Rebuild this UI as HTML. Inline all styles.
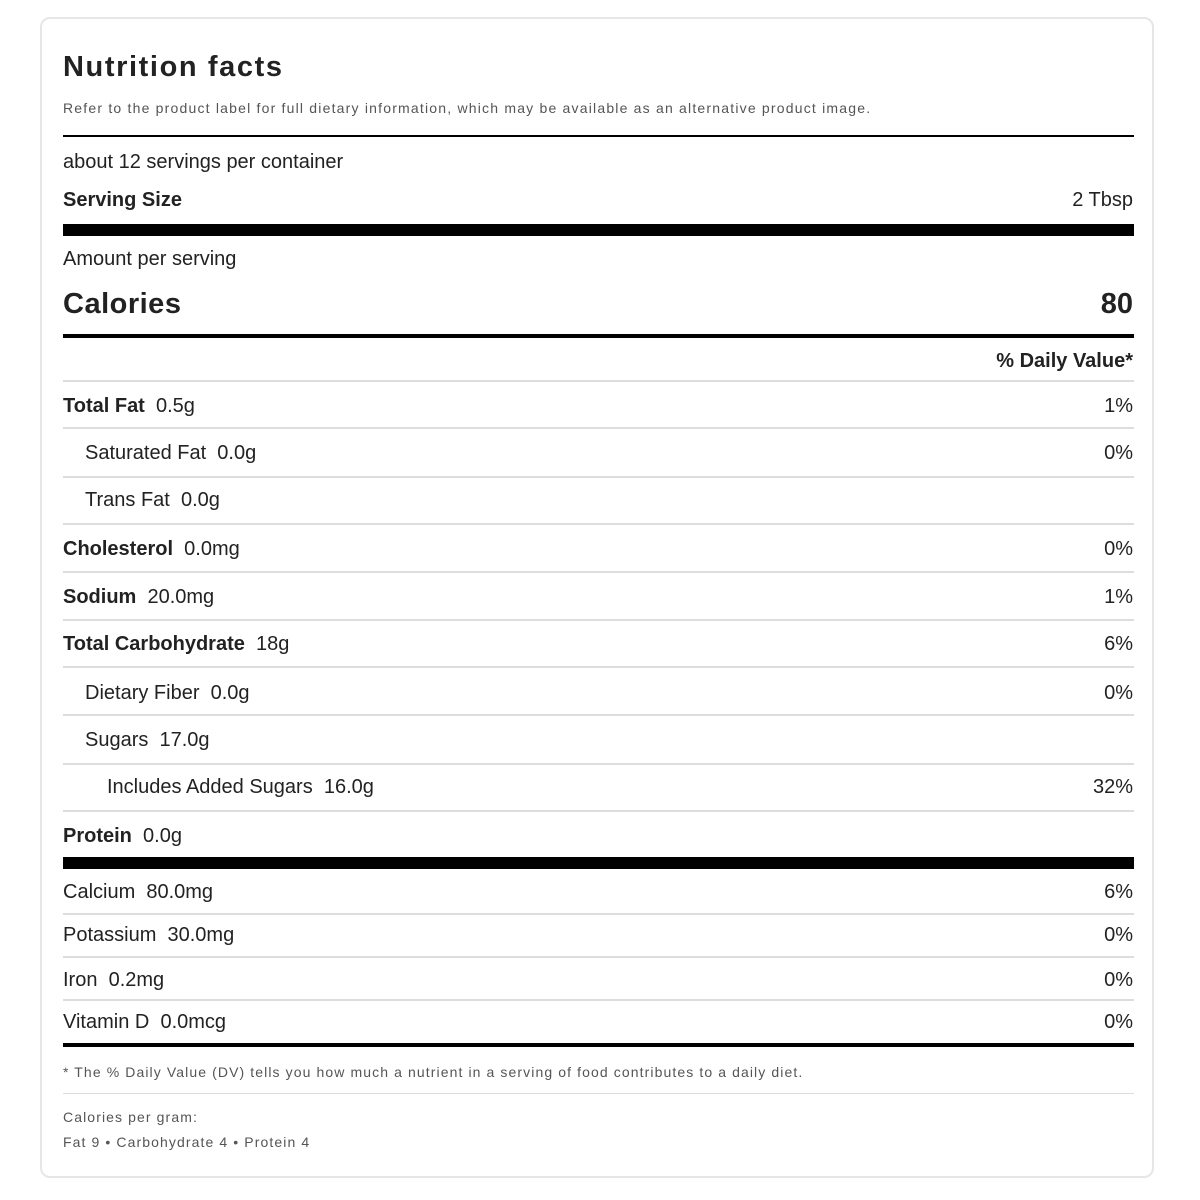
<!DOCTYPE html>
<html><head><style>
body{margin:0;background:#fff;width:1200px;height:1200px;position:relative;font-family:"Liberation Sans",sans-serif;color:#222;overflow:hidden}
.card{position:absolute;left:40px;top:17px;width:1114px;height:1161px;border:2px solid #e6e6e6;border-radius:10px;box-sizing:border-box}
.t{position:absolute;left:63px;height:30px;line-height:30px;font-size:20px;white-space:nowrap}
.r{position:absolute;right:67px;height:30px;line-height:30px;font-size:20px;text-align:right}
.l{position:absolute;left:63px;width:1071px;background:#ddd;height:2px}
.b{background:#000}
.s{font-size:14px;height:20px;line-height:20px;color:#555;letter-spacing:1.1px}
</style></head><body>
<div class="card"></div>
<div class="t" style="top:51px;font-size:29px;font-weight:bold;height:32px;line-height:32px;letter-spacing:1.6px">Nutrition facts</div>
<div class="t s" style="top:98px;letter-spacing:1.2px">Refer to the product label for full dietary information, which may be available as an alternative product image.</div>
<div class="l b" style="top:135px;height:2px"></div>
<div class="t" style="top:147px">about 12 servings per container</div>
<div class="t" style="top:185px;font-weight:bold">Serving Size</div>
<div class="r" style="top:185px">2 Tbsp</div>
<div class="l b" style="top:224px;height:12px"></div>
<div class="t" style="top:244px">Amount per serving</div>
<div class="t" style="top:287px;font-size:29px;font-weight:bold;height:34px;line-height:34px;letter-spacing:0.5px">Calories</div>
<div class="r" style="top:287px;font-size:29px;font-weight:bold;height:34px;line-height:34px">80</div>
<div class="l b" style="top:334px;height:4px"></div>
<div class="r" style="top:346px;font-weight:bold">% Daily Value*</div>
<div class="l" style="top:380px"></div>
<div class="t" style="top:391px"><b>Total Fat</b>&nbsp; 0.5g</div><div class="r" style="top:391px">1%</div>
<div class="l" style="top:427px"></div>
<div class="t" style="top:438px;left:85px">Saturated Fat&nbsp; 0.0g</div><div class="r" style="top:438px">0%</div>
<div class="l" style="top:476px"></div>
<div class="t" style="top:485px;left:85px">Trans Fat&nbsp; 0.0g</div>
<div class="l" style="top:523px"></div>
<div class="t" style="top:534px"><b>Cholesterol</b>&nbsp; 0.0mg</div><div class="r" style="top:534px">0%</div>
<div class="l" style="top:571px"></div>
<div class="t" style="top:582px"><b>Sodium</b>&nbsp; 20.0mg</div><div class="r" style="top:582px">1%</div>
<div class="l" style="top:619px"></div>
<div class="t" style="top:629px"><b>Total Carbohydrate</b>&nbsp; 18g</div><div class="r" style="top:629px">6%</div>
<div class="l" style="top:666px"></div>
<div class="t" style="top:678px;left:85px">Dietary Fiber&nbsp; 0.0g</div><div class="r" style="top:678px">0%</div>
<div class="l" style="top:714px"></div>
<div class="t" style="top:725px;left:85px">Sugars&nbsp; 17.0g</div>
<div class="l" style="top:763px"></div>
<div class="t" style="top:772px;left:107px">Includes Added Sugars&nbsp; 16.0g</div><div class="r" style="top:772px">32%</div>
<div class="l" style="top:810px"></div>
<div class="t" style="top:821px"><b>Protein</b>&nbsp; 0.0g</div>
<div class="l b" style="top:857px;height:12px"></div>
<div class="t" style="top:877px">Calcium&nbsp; 80.0mg</div><div class="r" style="top:877px">6%</div>
<div class="l" style="top:913px"></div>
<div class="t" style="top:920px">Potassium&nbsp; 30.0mg</div><div class="r" style="top:920px">0%</div>
<div class="l" style="top:956px"></div>
<div class="t" style="top:965px">Iron&nbsp; 0.2mg</div><div class="r" style="top:965px">0%</div>
<div class="l" style="top:999px"></div>
<div class="t" style="top:1007px">Vitamin D&nbsp; 0.0mcg</div><div class="r" style="top:1007px">0%</div>
<div class="l b" style="top:1043px;height:4px"></div>
<div class="t s" style="top:1062px">* The % Daily Value (DV) tells you how much a nutrient in a serving of food contributes to a daily diet.</div>
<div class="l" style="top:1093px;height:1px"></div>
<div class="t s" style="top:1107px">Calories per gram:</div>
<div class="t s" style="top:1132px">Fat 9 • Carbohydrate 4 • Protein 4</div>
</body></html>
